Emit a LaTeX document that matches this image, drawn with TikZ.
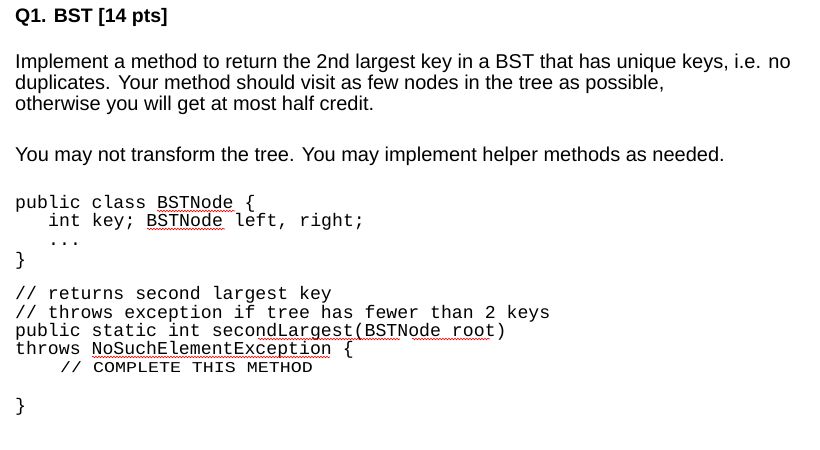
\documentclass[tikz,border=0pt]{standalone}
\usepackage{fontspec}
\usepackage{graphicx}
\setmainfont{Liberation Sans}
\setmonofont{Liberation Mono}
\usetikzlibrary{decorations.pathmorphing}
\begin{document}
\begin{tikzpicture}[x=1pt,y=-1pt,
  txt/.style={anchor=base west,inner sep=0pt,font=\fontsize{20}{22}\selectfont},
  code/.style={anchor=base west,inner sep=0pt,font=\fontsize{18.2}{19}\ttfamily},
  wavy/.style={red,line width=0.6pt,decorate,decoration={snake,amplitude=0.8pt,segment length=3pt}}]
\useasboundingbox (0,0) rectangle (820,450);
\node[txt,font=\fontsize{19.5}{21}\selectfont\bfseries] (t) at (15,22) {Q1. BST [14 pts]};
\node[txt] (p1) at (15,68) {Implement a method to return the 2nd largest key in a BST that has unique keys, i.e. no};
\node[txt] (p2) at (15,89) {duplicates. Your method should visit as few nodes in the tree as possible,};
\node[txt] (p3) at (15,110) {otherwise you will get at most half credit.};
\node[txt] (p4) at (15,161) {You may not transform the tree. You may implement helper methods as needed.};
\node[code] (c1) at (15,208) {public class BSTNode \{};
\node[code] (c2) at (48,226) {int key; BSTNode left, right;};
\node[code] (c3) at (48,245) {...};
\node[code] (c4) at (15,265) {\}};
\node[code] (c5) at (15,299) {// returns second largest key};
\node[code] (c6) at (15,318) {// throws exception if tree has fewer than 2 keys};
\node[code] (c7) at (15,336) {public static int secondLargest(BSTNode root)};
\node[code] (c8) at (15,354) {throws NoSuchElementException \{};
\node[code,font=\fontsize{15}{17}\ttfamily] (c9) at (60,372) {\scalebox{1.22}[1]{// COMPLETE THIS METHOD}};
\node[code] (c10) at (15,411) {\}};
\draw[wavy] (157,211) -- (235,211);
\draw[wavy] (147,229) -- (225,229);
\draw[wavy] (258,339) -- (400,339);
\draw[wavy] (412,339) -- (490,339);
\draw[wavy] (92,357) -- (330,357);
\end{tikzpicture}
\end{document}
